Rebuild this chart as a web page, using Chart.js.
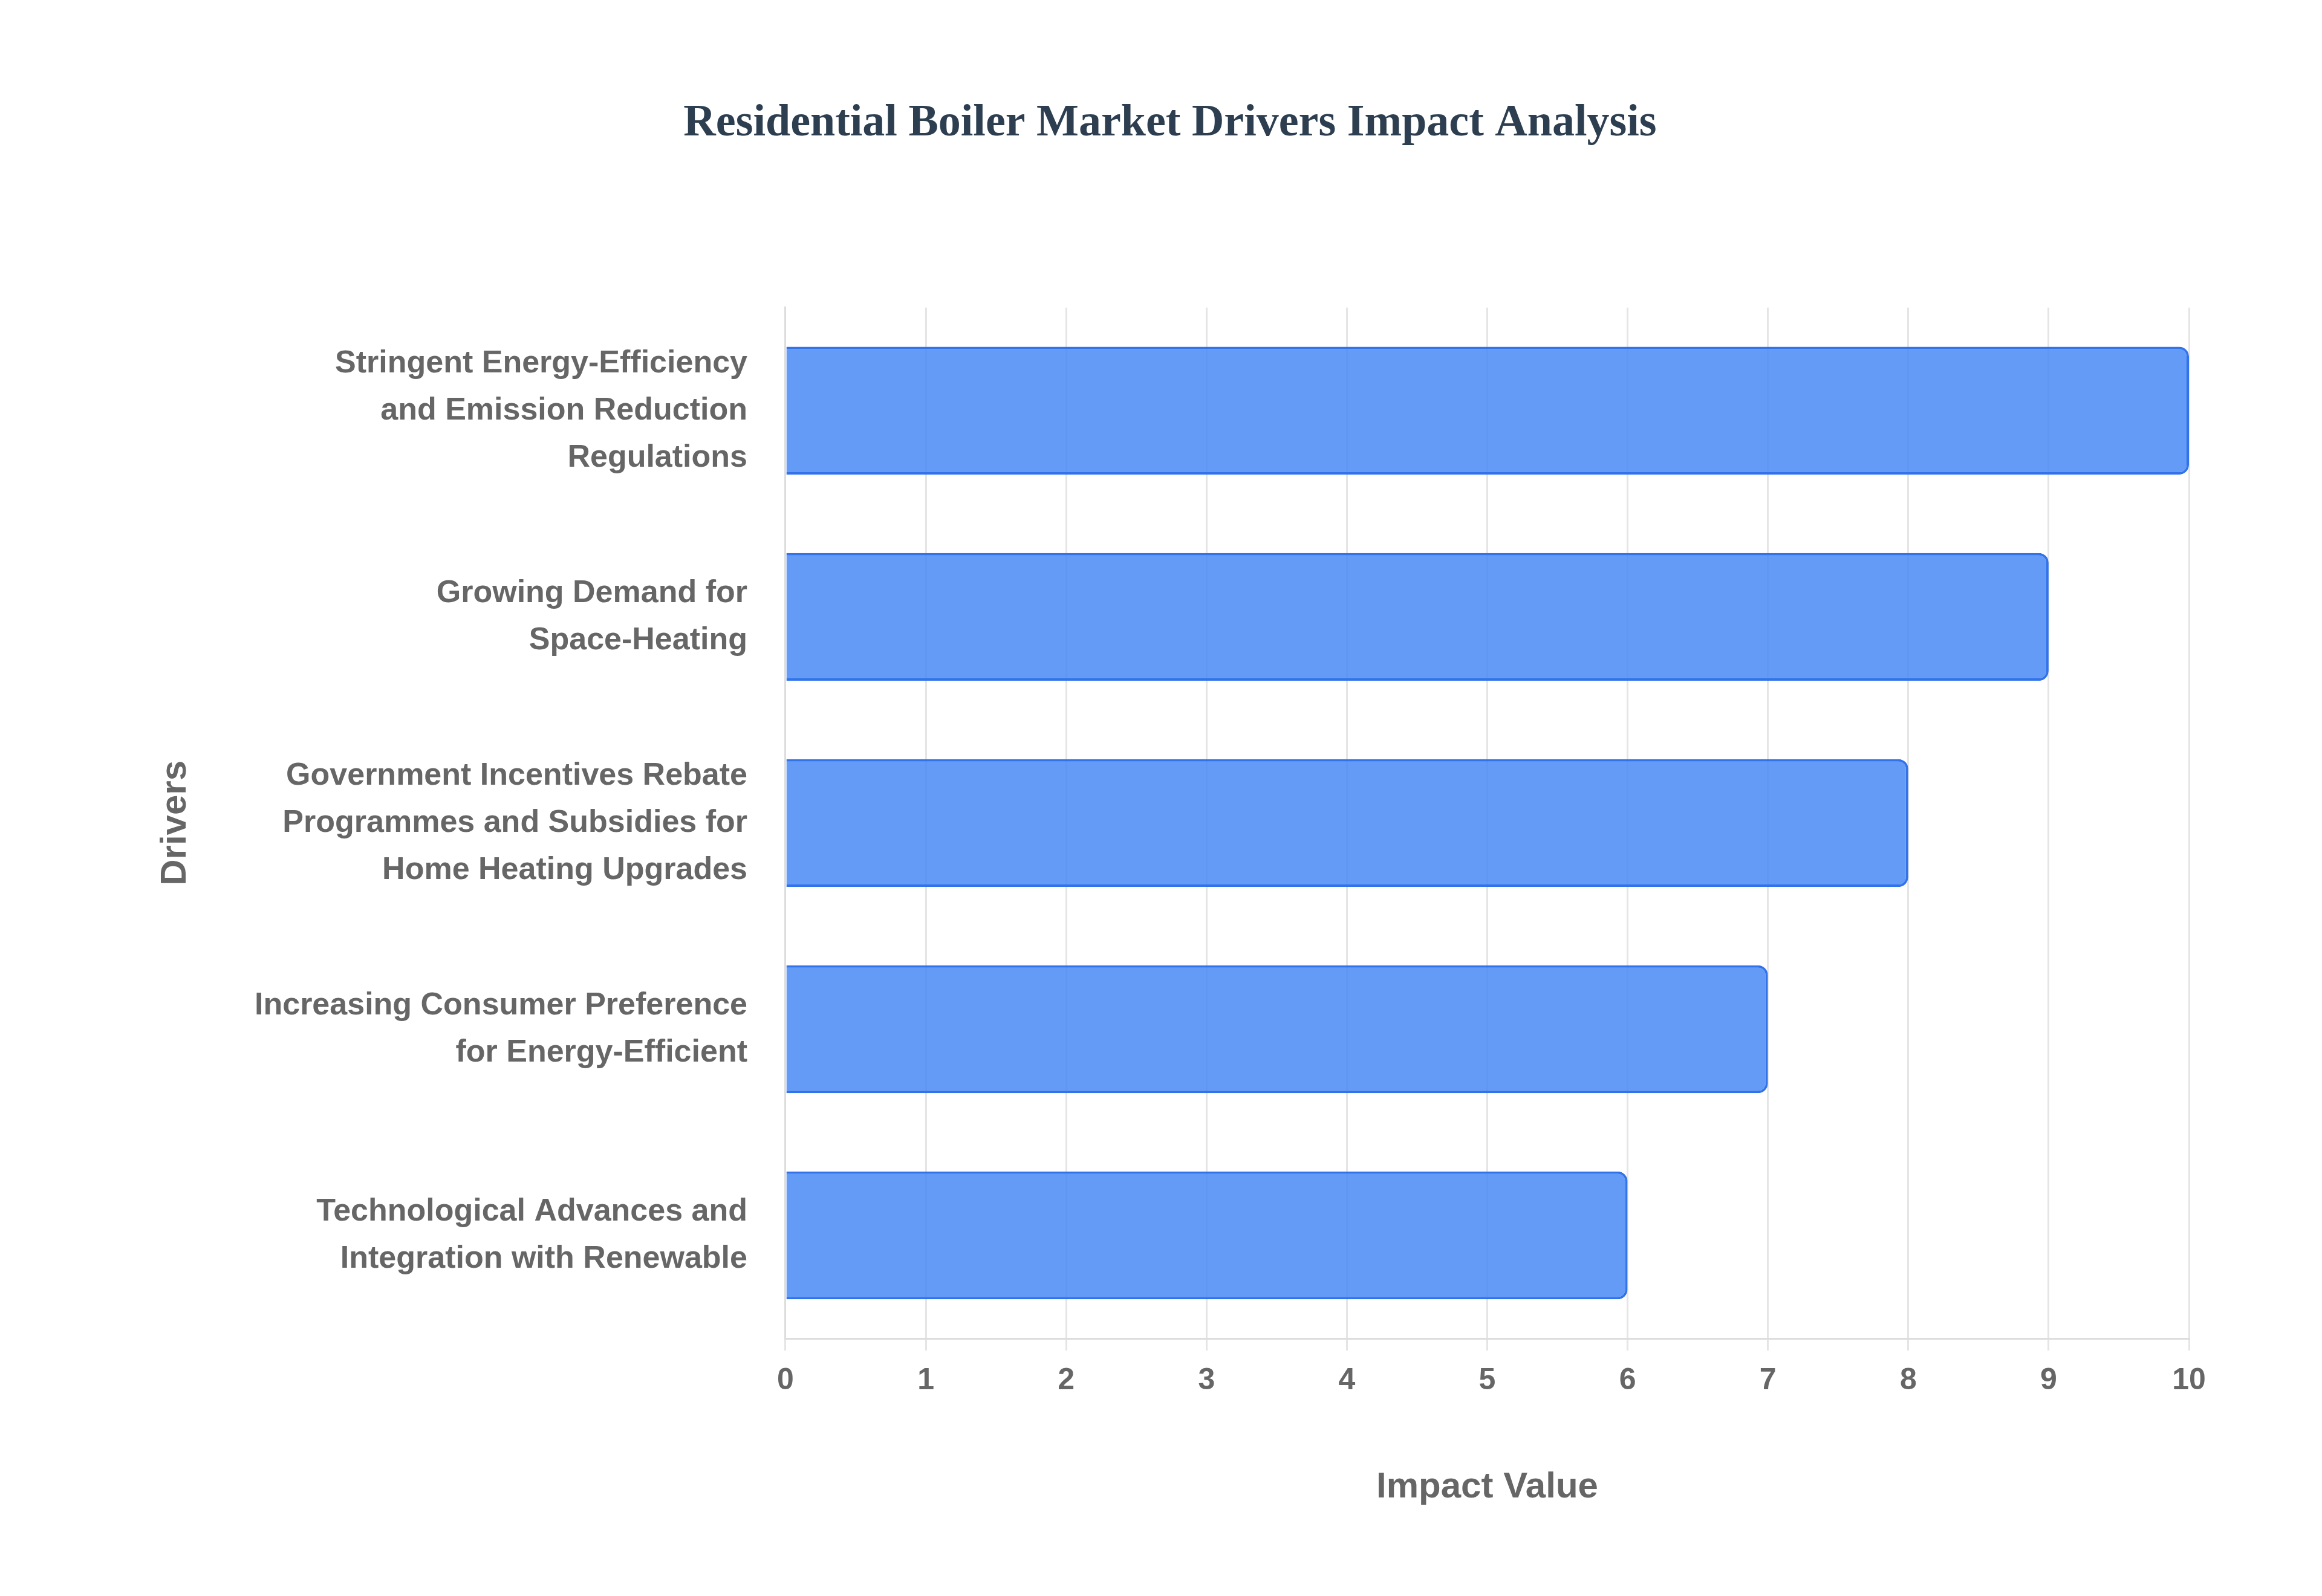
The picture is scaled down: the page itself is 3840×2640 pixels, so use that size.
<!DOCTYPE html>
<html><head><meta charset="utf-8">
<script src="https://cdn.jsdelivr.net/npm/chart.js@4/dist/chart.umd.min.js"></script>
<style>html,body{margin:0;background:#fff}#wrap{width:3840px;height:2640px}</style>
</head><body><div id="wrap"><canvas id="c" width="3840" height="2640"></canvas></div>
<script>
const drivers = [
  ["Stringent Energy-Efficiency", "and Emission Reduction", "Regulations"],
  ["Growing Demand for", "Space-Heating"],
  ["Government Incentives Rebate", "Programmes and Subsidies for", "Home Heating Upgrades"],
  ["Increasing Consumer Preference", "for Energy-Efficient"],
  ["Technological Advances and", "Integration with Renewable"]
];
const impact = [10, 9, 8, 7, 6];

const font = "'Liberation Sans', Arial, sans-serif";
new Chart(document.getElementById("c"), {
  type: "bar",
  data: {
    labels: drivers,
    datasets: [{
      data: impact,
      backgroundColor: "rgba(66,133,244,0.82)",
      borderColor: "rgba(50,115,235,1)",
      borderWidth: 4,
      borderRadius: 16,
      borderSkipped: "left",
      categoryPercentage: 1,
      barPercentage: 0.62
    }]
  },
  options: {
    indexAxis: "y",
    responsive: false,
    devicePixelRatio: 1,
    animation: false,
    layout: { padding: { left: 250, right: 220, top: 60, bottom: 140 } },
    plugins: {
      legend: { display: false },
      title: {
        display: true,
        text: "Residential Boiler Market Drivers Impact Analysis",
        color: "#2c3e50",
        font: { family: "'Liberation Serif', 'Times New Roman', serif", size: 74, weight: "bold" },
        padding: { top: 100, bottom: 260 }
      }
    },
    scales: {
      x: {
        min: 0, max: 10,
        ticks: { stepSize: 1, color: "#666", padding: 20, font: { family: font, size: 50, weight: "bold" } },
        grid: { color: "#e5e5e5", lineWidth: 3, tickLength: 20 },
        border: { color: "#ddd", width: 3 },
        title: { display: true, text: "Impact Value", color: "#666", padding: { top: 90 }, font: { family: font, size: 60, weight: "bold" } }
      },
      y: {
        ticks: { color: "#666", padding: 55, font: { family: font, size: 52, weight: "bold", lineHeight: 1.5 } },
        grid: { display: false },
        border: { color: "#ddd", width: 3 },
        title: { display: true, text: "Drivers", color: "#666", padding: { bottom: 40 }, font: { family: font, size: 60, weight: "bold" } }
      }
    }
  }
});
</script></body></html>
